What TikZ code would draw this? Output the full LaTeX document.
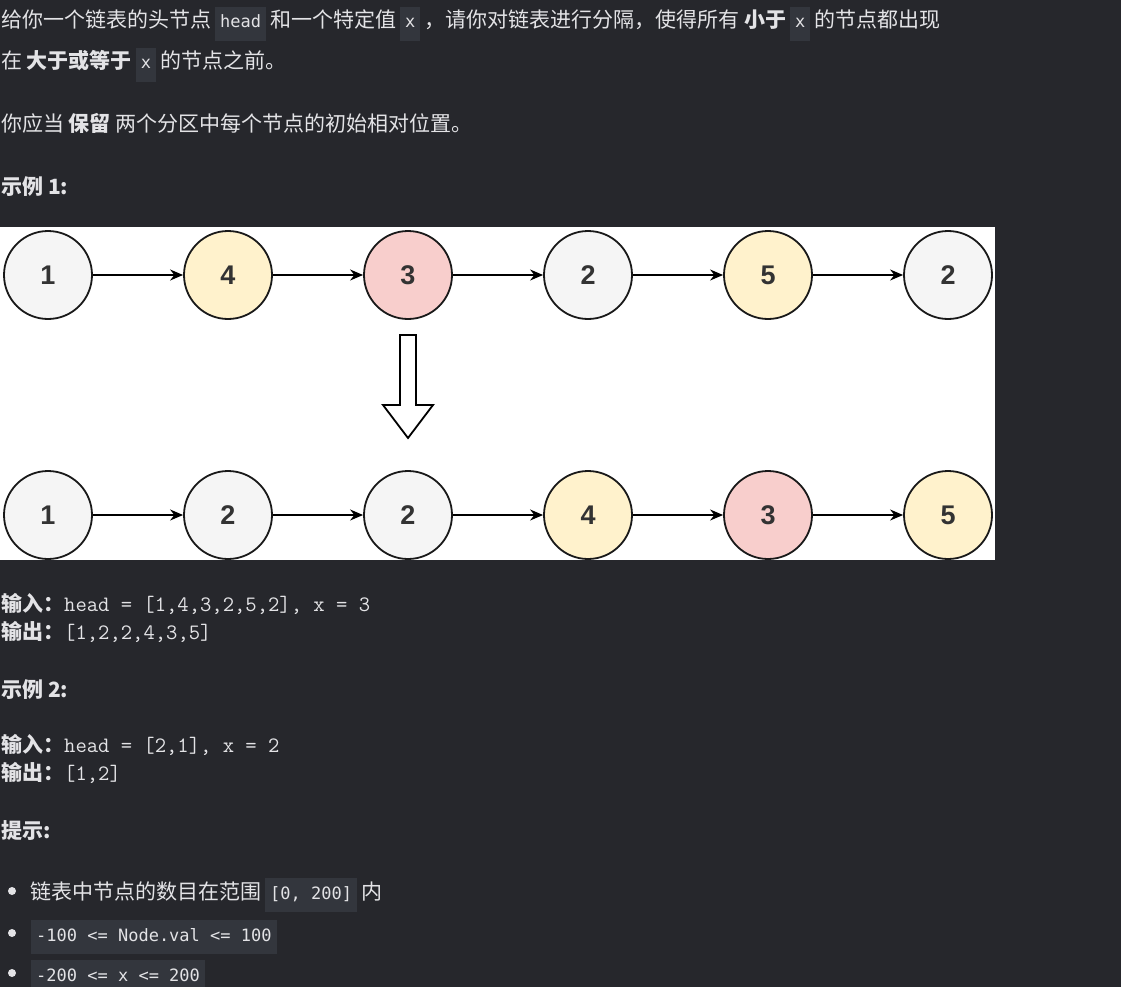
\documentclass[tikz,border=0pt]{standalone}
\usepackage{fontspec}
\setmainfont{Noto Sans CJK SC}
\newfontfamily\numfont{Liberation Sans}
\newfontfamily\codefont{DejaVu Sans Mono}
\usetikzlibrary{arrows.meta}
\definecolor{bg}{HTML}{26272C}
\definecolor{fg}{HTML}{E3E3E6}
\definecolor{codebg}{HTML}{33363D}
\definecolor{cgray}{HTML}{F5F5F5}
\definecolor{cyel}{HTML}{FFF2CC}
\definecolor{cpink}{HTML}{F8CECC}
\newcommand\cbox[1]{\hspace{4pt}{\setlength\fboxsep{5pt}\colorbox{codebg}{\rule[-8pt]{0pt}{24pt}\codefont\fontsize{17}{20}\selectfont #1}}\hspace{4pt}}
\tikzset{
  txt/.style={anchor=base west,inner sep=0pt,text=fg,font=\fontsize{21}{24}\selectfont},
  ex/.style={anchor=base west,inner sep=0pt,text=fg,font=\fontsize{21}{24}\selectfont},
  ln/.style={circle,draw=black!90,line width=1.8pt,minimum size=88pt,inner sep=0pt,font=\numfont\bfseries\fontsize{27}{30}\selectfont,text=black!80},
  link/.style={-{Stealth[length=13pt,width=11pt]},line width=1.5pt,black}
}
\begin{document}
\begin{tikzpicture}[x=1pt,y=-1pt]
\fill[bg] (0,0) rectangle (1121,987);
\useasboundingbox (0,0) rectangle (1121,987);
\node[txt] (l1) at (1,28) {给你一个链表的头节点\cbox{head}和一个特定值\cbox{x}，请你对链表进行分隔，使得所有 \textbf{小于}\cbox{x}的节点都出现};
\node[txt] (l2) at (1,69) {在 \textbf{大于或等于}\cbox{x}的节点之前。};
\node[txt] (l3) at (1,132) {你应当 \textbf{保留} 两个分区中每个节点的初始相对位置。};
\node[txt] (e1) at (1,194) {\textbf{示例 1:}};
\fill[white] (0,227) rectangle (995,560);
\foreach \n/\x/\v/\c in {a1/48/1/cgray,a2/228/4/cyel,a3/408/3/cpink,a4/588/2/cgray,a5/768/5/cyel,a6/948/2/cgray}
  \node[ln,fill=\c] (\n) at (\x,275) {\v};
\foreach \n/\x/\v/\c in {b1/48/1/cgray,b2/228/2/cgray,b3/408/2/cgray,b4/588/4/cyel,b5/768/3/cpink,b6/948/5/cyel}
  \node[ln,fill=\c] (\n) at (\x,515) {\v};
\foreach \i/\j in {1/2,2/3,3/4,4/5,5/6}{
  \draw[link] (a\i) -- (a\j);
  \draw[link] (b\i) -- (b\j);
}
\draw[line width=1.8pt,fill=white,line join=miter] (400,335) -- (416,335) -- (416,405) -- (433,405) -- (408,438) -- (383,405) -- (400,405) -- cycle;
\node[ex] (i1) at (1,611) {\textbf{输入：}{\ttfamily\fontsize{22}{24}\selectfont head = [1,4,3,2,5,2], x = 3}};
\node[ex] (o1) at (1,639) {\textbf{输出：}{\ttfamily\fontsize{22}{24}\selectfont [1,2,2,4,3,5]}};
\node[txt] (e2) at (1,697) {\textbf{示例 2:}};
\node[ex] (i2) at (1,752) {\textbf{输入：}{\ttfamily\fontsize{22}{24}\selectfont head = [2,1], x = 2}};
\node[ex] (o2) at (1,780) {\textbf{输出：}{\ttfamily\fontsize{22}{24}\selectfont [1,2]}};
\node[txt] (hint) at (1,838) {\textbf{提示:}};
\fill[fg] (12,891) circle (4);
\fill[fg] (12,933) circle (4);
\fill[fg] (12,973) circle (4);
\node[txt] (b1t) at (30,899) {链表中节点的数目在范围\cbox{[0, 200]}内};
\node[txt] (b2t) at (27,941) {\cbox{-100 <= Node.val <= 100}};
\node[txt] (b3t) at (27,981) {\cbox{-200 <= x <= 200}};
\end{tikzpicture}
\end{document}
